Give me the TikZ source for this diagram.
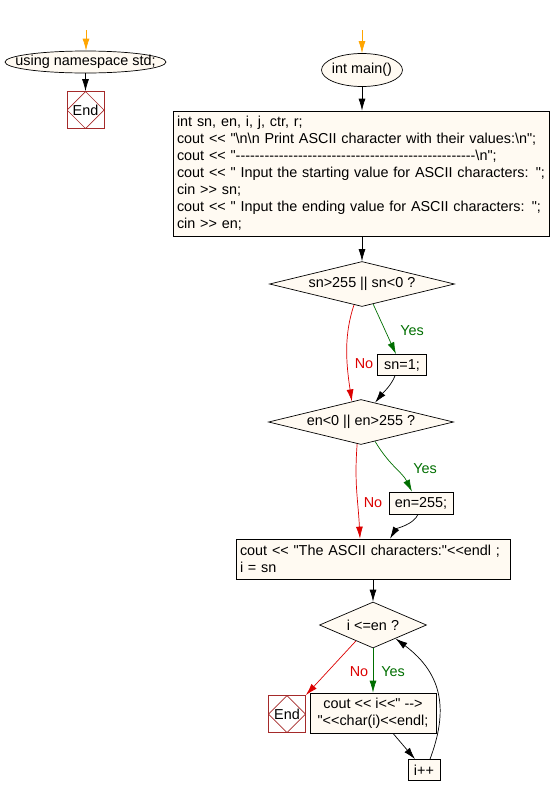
\documentclass[tikz,border=0pt]{standalone}
\usepackage{fontspec}
\setmainfont{Liberation Sans}[Ligatures=TeXOff]
\usetikzlibrary{shapes.geometric, arrows.meta, calc}
\definecolor{cFill}{RGB}{255,250,242}
\definecolor{cYes}{RGB}{0,110,0}
\definecolor{cNo}{RGB}{220,0,0}
\definecolor{cStart}{RGB}{255,165,0}
\definecolor{cEnd}{RGB}{165,42,42}
\newcommand{\bs}{\textbackslash}

\begin{document}
\begin{tikzpicture}[x=1pt, y=-1pt, line width=0.7pt,
  font=\fontsize{14.4}{17}\selectfont,
  term/.style={draw, ellipse, fill=cFill, inner sep=0pt},
  proc/.style={draw, fill=cFill, inner xsep=4pt, inner ysep=3pt, align=left},
  cond/.style={draw, diamond, fill=cFill, inner sep=0pt},
  stop/.style={draw=cEnd, fill=white, minimum size=37pt, inner sep=0pt,
    path picture={\draw[cEnd] (path picture bounding box.north) -- (path picture bounding box.east)
      -- (path picture bounding box.south) -- (path picture bounding box.west) -- cycle;}},
  arr/.style={-{Latex[length=12pt,width=7pt]}},
  yesarr/.style={arr, cYes},
  noarr/.style={arr, cNo},
  yeslbl/.style={text=cYes, inner sep=0pt},
  nolbl/.style={text=cNo, inner sep=0pt}]
  \useasboundingbox (0,0) rectangle (551,796);

  % left part
  \coordinate (startL) at (86,30);
  \node[term, minimum width=161pt, minimum height=22pt] (ns) at (85.5,62) {\makebox[0pt]{using namespace std;}};
  \node[stop] (endL) at (85.5,110) {End};
  \draw[arr, cStart] (startL) -- (startL |- ns.north);
  \draw[arr] (ns) -- (endL);

  % main
  \coordinate (startM) at (362,30);
  \node[term, minimum width=81pt, minimum height=33pt] (main) at (362,70) {\makebox[0pt]{int main()}};
  \node[proc, text width=368pt, minimum height=125pt] (decl) at (361,173.5) {int sn, en, i, j, ctr, r;\\
    cout << "\bs n\bs n Print ASCII character with their values:\bs n";\\
    cout << "--------------------------------------------------\bs n";\\
    cout << " Input the starting value for ASCII characters: ";\\
    cin >> sn;\\
    cout << " Input the ending value for ASCII characters: ";\\
    cin >> en;};
  \node[cond, minimum width=185pt, minimum height=45pt, aspect=4] (dsn) at (362,284) {sn>255 || sn<0 ?};
  \node[proc, minimum width=49pt, minimum height=21pt, inner ysep=0pt] (sn1) at (402,365) {sn=1;};
  \node[cond, minimum width=185pt, minimum height=45pt, aspect=4] (den) at (361,422) {en<0 || en>255 ?};
  \node[proc, minimum width=64pt, minimum height=22pt, inner ysep=0pt] (en255) at (421,503) {en=255;};
  \node[proc, text width=266pt, minimum height=40pt] (show) at (373,559) {cout << "The ASCII characters:"<<endl ;\\ i = sn};
  \node[cond, minimum width=107pt, minimum height=46pt, aspect=2.3] (loop) at (373,625) {i <=en ?};
  \node[stop] (endR) at (287,714) {End};
  \node[proc, align=center, minimum width=126pt, minimum height=40pt] (print) at (373,713) {cout << i<<" -->\\ "<<char(i)<<endl;};
  \node[proc, minimum width=32pt, minimum height=21pt, inner ysep=0pt, inner xsep=2pt] (inc) at (424,770) {i++};

  \node[yeslbl] at (412,331) {Yes};
  \node[nolbl] at (364,364) {No};
  \node[yeslbl] at (425,469) {Yes};
  \node[nolbl] at (373,503) {No};
  \node[nolbl] at (359,672) {No};
  \node[yeslbl] at (393,672) {Yes};

  \draw[arr, cStart] (startM) -- (main);
  \draw[arr] (main.south) -- (main.south |- decl.north);
  \draw[arr] (decl.south -| dsn.north) -- (dsn);
  \draw[yesarr] (dsn.-61) -- ([xshift=-6pt]sn1.north);
  \draw[noarr] (dsn.-111) .. controls +(-10,30) and +(-6,-40) .. (den.114);
  \draw[arr] ([xshift=-7pt]sn1.south) .. controls +(-4,10) and +(8,-10) .. (den.54);
  \draw[yesarr] (den.-54) .. controls +(15,25) and +(-10,-20) .. ([xshift=-9pt]en255.north);
  \draw[noarr] (den.-100) .. controls +(-3,40) and +(-2,-40) .. ([xshift=-13pt]show.north);
  \draw[arr] ([xshift=-3pt]en255.south) .. controls +(-4,10) and +(6,-10) .. ([xshift=17pt]show.north);
  \draw[arr] (show) -- (loop);
  \draw[yesarr] (loop) -- (print);
  \draw[noarr] (loop.223) -- (endR.north east);
  \draw[arr] ([xshift=20pt]print.south) -- ([xshift=-9pt]inc.north);
  \draw[arr] ([xshift=6pt]inc.north) .. controls +(18,-48) and +(48,36) .. (loop.-31.5);
\end{tikzpicture}
\end{document}
